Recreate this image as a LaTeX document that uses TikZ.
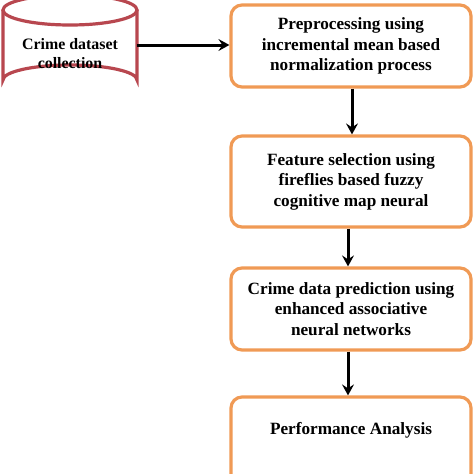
\documentclass[tikz,border=0pt]{standalone}
\usepackage{fontspec}
\setmainfont{Liberation Serif}
\usetikzlibrary{arrows.meta}
\definecolor{boxorange}{HTML}{F09A55}
\definecolor{cylred}{HTML}{B8474F}
\begin{document}
\begin{tikzpicture}[x=1pt,y=-1pt,
  stepbox/.style={draw=boxorange, line width=3.2pt, rounded corners=11pt, fill=white,
     minimum width=240pt, align=center, inner sep=0pt, font=\bfseries\fontsize{17.2}{20.5}\selectfont},
  conn/.style={line width=3pt, -{Stealth[length=11pt,width=12pt,inset=4pt]}}]
\useasboundingbox (0,0) rectangle (474,474);
% cylinder
\draw[cylred, line width=3.2pt, fill=white] (3,10) -- (3,80) arc[start angle=180, end angle=360, x radius=67, y radius=15] -- (137,10);
\draw[cylred, line width=3.2pt] (70,10) ellipse[x radius=67, y radius=15];
\node[font=\bfseries\fontsize{15.9}{19}\selectfont, align=center, minimum width=134pt, inner sep=0pt] (cyl) at (70,54) {Crime dataset\\collection};
% boxes
\node[stepbox, minimum height=82pt] (b1) at (351,46) {Preprocessing using\\incremental mean based\\normalization process};
\node[stepbox, minimum height=91pt] (b2) at (351,181.5) {Feature selection using\\fireflies based fuzzy\\cognitive map neural};
\node[stepbox, minimum height=82pt] (b3) at (351,309) {Crime data prediction using\\enhanced associative\\neural networks};
\node[stepbox, minimum height=90pt] (b4) at (351,442) {};
\node[font=\bfseries\fontsize{17.2}{20.5}\selectfont] (t4) at (351,430) {Performance Analysis};
% arrows
\draw[conn] (cyl.east |- 0,45) -- (b1.west |- 0,45);
\draw[conn] (b1.south -| 352,0) -- (b2.north -| 352,0);
\draw[conn] (b2.south -| 348,0) -- (b3.north -| 348,0);
\draw[conn] (b3.south -| 348,0) -- (b4.north -| 348,0);
\end{tikzpicture}
\end{document}
